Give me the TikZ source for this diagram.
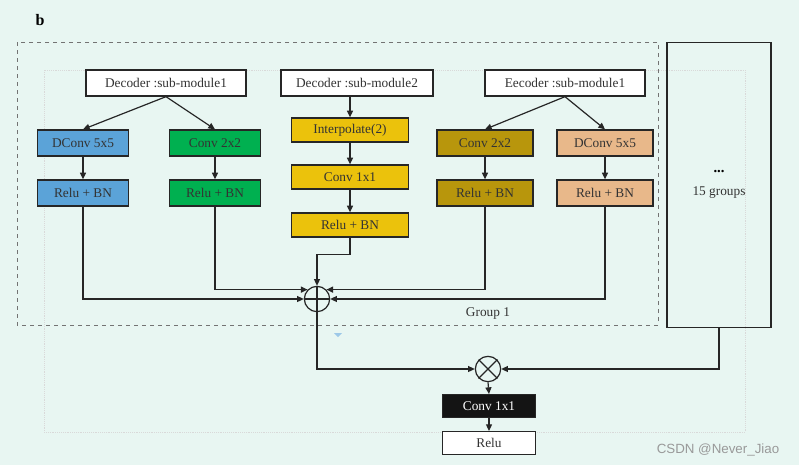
\documentclass[tikz,border=0pt]{standalone}
\usepackage{fontspec}
\setmainfont{Liberation Serif}
\newfontfamily\wmfont{Liberation Sans}
\usetikzlibrary{arrows.meta}
\definecolor{bg}{HTML}{E8F6F2}
\definecolor{cblue}{HTML}{5BA3D8}
\definecolor{cgreen}{HTML}{00B050}
\definecolor{cyel}{HTML}{EBC20C}
\definecolor{colive}{HTML}{B8960C}
\definecolor{ctan}{HTML}{E8B88A}
\begin{document}
\begin{tikzpicture}[x=0.75pt,y=-0.75pt,
 box/.style={draw=black!85,line width=1pt,minimum height=19.5pt,inner sep=1pt,font=\fontsize{10}{11}\selectfont,text=black!80},
 arr/.style={draw=black!85,line width=0.9pt,-{Triangle[length=5pt,width=4.5pt]}},
 ln/.style={draw=black!85,line width=0.9pt},
 op/.style={circle,draw=black!85,line width=0.9pt,minimum size=19pt,inner sep=0pt}]
\fill[bg] (0,0) rectangle (799,465);
\useasboundingbox (0,0) rectangle (799,465);
\node[font=\bfseries\fontsize{12}{12}\selectfont] (lb) at (40,20) {b};
\draw[black!15,densely dotted] (44,70) rectangle (745,432);
\draw[black!55,dashed,line width=0.7pt] (17,42) rectangle (658,325);
\node[box,fill=white,minimum width=120pt] (t1) at (166,83) {Decoder :sub-module1};
\node[box,fill=white,minimum width=114pt] (t2) at (357,83) {Decoder :sub-module2};
\node[box,fill=white,minimum width=120pt] (t3) at (565,83) {Eecoder :sub-module1};
\node[box,fill=cblue,minimum width=68pt] (a1) at (83,143) {DConv 5x5};
\node[box,fill=cblue,minimum width=68pt] (a2) at (83,193) {Relu + BN};
\node[box,fill=cgreen,minimum width=68pt] (b1) at (215,143) {Conv 2x2};
\node[box,fill=cgreen,minimum width=68pt] (b2) at (215,193) {Relu + BN};
\node[box,fill=cyel,minimum width=88pt,minimum height=18pt] (c1) at (350,130) {Interpolate(2)};
\node[box,fill=cyel,minimum width=88pt,minimum height=18pt] (c2) at (350,177) {Conv 1x1};
\node[box,fill=cyel,minimum width=88pt,minimum height=18pt] (c3) at (350,225) {Relu + BN};
\node[box,fill=colive,minimum width=72pt] (d1) at (485,143) {Conv 2x2};
\node[box,fill=colive,minimum width=72pt] (d2) at (485,193) {Relu + BN};
\node[box,fill=ctan,minimum width=72pt] (e1) at (605,143) {DConv 5x5};
\node[box,fill=ctan,minimum width=72pt] (e2) at (605,193) {Relu + BN};
\node[draw=black!85,line width=1pt,minimum width=78pt,minimum height=214pt] (g) at (719,185) {};
\node[font=\bfseries\fontsize{11}{11}\selectfont] (dots) at (719,172) {...};
\node[font=\fontsize{10}{11}\selectfont,text=black!80] (g15) at (719,193) {15 groups};
\node[op] (plus) at (317,299) {};
\draw[ln] (plus.north)--(plus.south) (plus.west)--(plus.east);
\node[op] (tim) at (488,369) {};
\draw[ln] (tim.north west)--(tim.south east) (tim.north east)--(tim.south west);
\node[font=\fontsize{10}{11}\selectfont,text=black!80] (grp) at (488,313) {Group 1};
\node[box,fill=black!92,text=white,minimum width=70pt,minimum height=17pt] (f1) at (489,406) {Conv 1x1};
\node[box,fill=white,minimum width=70pt,minimum height=17pt] (f2) at (489,443) {Relu};
\node[font=\wmfont\fontsize{10}{10}\selectfont,text=black!40] (wm) at (718,450) {CSDN @Never\_Jiao};
\fill[cblue!60] (334,333) -- (342,333) -- (338,337) -- cycle;
\draw[arr] (t1.south) -- (a1.north);
\draw[arr] (t1.south) -- (b1.north);
\draw[arr] (t3.south) -- (d1.north);
\draw[arr] (t3.south) -- (e1.north);
\draw[arr] (c1.north |- t2.south) -- (c1.north);
\draw[arr] (c1) -- (c2);
\draw[arr] (c2) -- (c3);
\draw[arr] (a1) -- (a2);
\draw[arr] (b1) -- (b2);
\draw[arr] (d1) -- (d2);
\draw[arr] (e1) -- (e2);
\draw[arr] (a2.south) |- (plus.west);
\draw[arr] (e2.south) |- (plus.east);
\draw[arr] (b2.south) |- (plus.north west);
\draw[arr] (d2.south) |- (plus.north east);
\draw[arr] (c3.south) -- ++(0,17) -| (plus.north);
\draw[arr] (plus.south) |- (tim.west);
\draw[arr] (g.south) |- (tim.east);
\draw[arr] (tim.south) -- (f1.north);
\draw[arr] (f1.south) -- (f2.north);
\end{tikzpicture}
\end{document}
